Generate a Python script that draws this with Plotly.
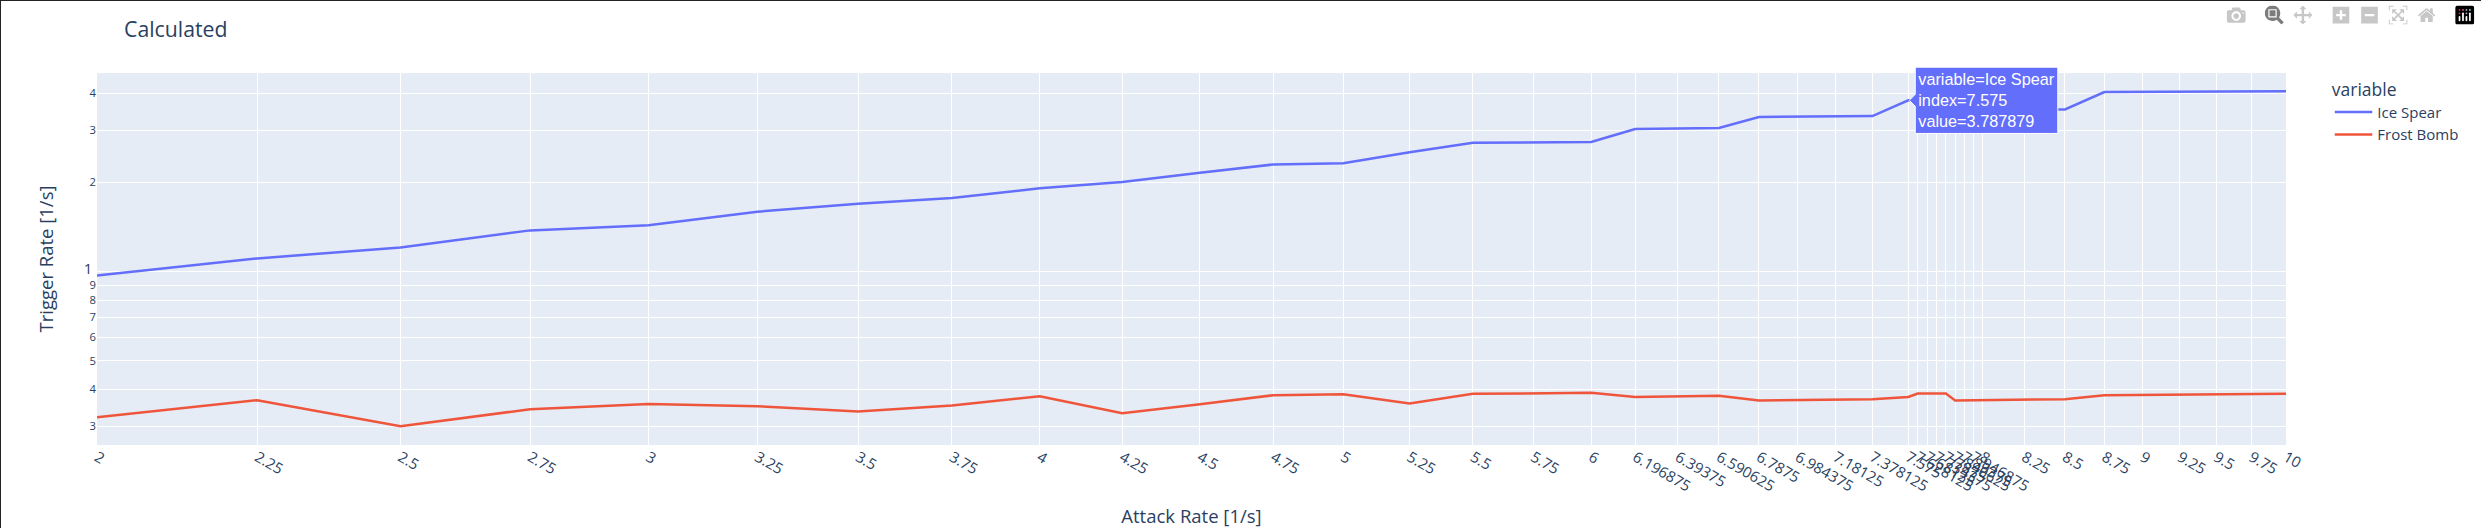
import plotly.graph_objects as go

TITLE = "Calculated"
X_TITLE = "Attack Rate [1/s]"
Y_TITLE = "Trigger Rate [1/s]"
LEGEND_TITLE = "variable"

attack_rate = [2, 2.25, 2.5, 2.75, 3, 3.25, 3.5, 3.75, 4, 4.25, 4.5, 4.75, 5, 5.25, 5.5, 5.75, 6,
               6.196875, 6.39375, 6.590625, 6.7875, 6.984375, 7.18125, 7.378125, 7.575,
               7.628125, 7.68125, 7.734375, 7.7875, 7.840625, 7.89375, 7.946875, 8,
               8.25, 8.5, 8.75, 9, 9.25, 9.5, 9.75, 10]

ice_spear = [0.970, 1.107, 1.206, 1.377, 1.432, 1.592, 1.694, 1.770, 1.910, 2.005, 2.156, 2.300, 2.320,
             2.527, 2.724, 2.731, 2.738,
             3.030, 3.037, 3.054, 3.327, 3.334, 3.344, 3.352, 3.787879,
             3.787, 3.787, 3.787, 3.787, 3.52, 3.52, 3.52, 3.52,
             3.525, 3.53, 4.04, 4.045, 4.05, 4.055, 4.06, 4.065]

frost_bomb = [0.322, 0.3675, 0.300, 0.3425, 0.357, 0.3507, 0.3365, 0.3526, 0.379, 0.332, 0.356, 0.382, 0.385,
              0.358, 0.386, 0.387, 0.389,
              0.377, 0.379, 0.380, 0.3668, 0.3675, 0.3684, 0.3703, 0.377,
              0.387, 0.387, 0.387, 0.387, 0.3668, 0.3672, 0.3676, 0.368,
              0.369, 0.3703, 0.382, 0.383, 0.384, 0.385, 0.3855, 0.386]

series = {"Ice Spear": (ice_spear, "#636efa"), "Frost Bomb": (frost_bomb, "#EF553B")}
hover_series = 0
hover_x = 7.575

fig = go.Figure()
for name, (vals, col) in series.items():
    fig.add_trace(go.Scatter(
        x=attack_rate, y=vals, mode="lines", name=name,
        line=dict(color=col, width=2.5),
        hovertemplate="variable=" + name + "<br>index=%{x}<br>value=%{y:.6f}<extra></extra>",
    ))

fig.update_layout(
    template="plotly",
    width=2481, height=528, autosize=False,
    margin=dict(l=97, r=195, t=73, b=83),
    title=dict(text=TITLE, x=0.05, font=dict(size=21.25)),
    hovermode="closest",
    hoverlabel=dict(font=dict(size=16.25)),
    legend=dict(title=dict(text=LEGEND_TITLE, font=dict(size=17.5)), font=dict(size=15),
                tracegroupgap=0, itemwidth=37.5),
    xaxis=dict(type="log", title=dict(text=X_TITLE, font=dict(size=18.5), standoff=43), tickmode="array",
               tickvals=attack_rate, ticktext=[str(v) for v in attack_rate], tickfont=dict(size=15),
               tickangle=30, range=[0.30103, 1.0], automargin=False, gridwidth=1.25),
    yaxis=dict(type="log", title=dict(text=Y_TITLE, font=dict(size=18.5), standoff=25), dtick="D1",
               tickfont=dict(size=15), range=[-0.5862, 0.6707], automargin=False, gridwidth=1.25),
)

post = """
document.body.style.margin='0';
document.body.style.overflow='hidden';
var st=document.createElement('style');
st.textContent='.modebar{transform:scale(1.19);transform-origin:top right;}';
document.head.appendChild(st);
var gd=document.getElementById('{plot_id}');
[['0','0','100%','1px'],['0','0','1px','100%']].forEach(function(b){
  var d=document.createElement('div');
  d.style.cssText='position:fixed;z-index:9999;background:#222;top:'+b[0]+';left:'+b[1]+';width:'+b[2]+';height:'+b[3];
  document.body.appendChild(d);
});
Plotly.Fx.hover(gd,[{curveNumber:HS,pointNumber:HP}]);
""".replace("HS", str(hover_series)).replace("HP", str(attack_rate.index(hover_x)))

fig.write_html("out.html", config=dict(displayModeBar=True), post_script=post)
